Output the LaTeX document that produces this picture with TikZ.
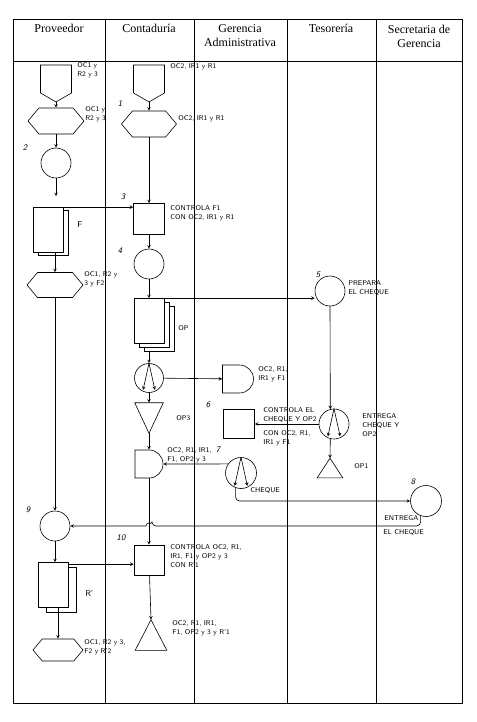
\documentclass[tikz,border=0pt]{standalone}
\usepackage{fontspec}
\setmainfont{Liberation Serif}
\usetikzlibrary{arrows.meta}
\usetikzlibrary{shapes.symbols,shapes.misc}
\usetikzlibrary{shadows}

\newcommand{\firma}[1]{%
  \draw[->, shorten >=1.5pt] (#1.north) -- (#1.245);
  \draw[->, shorten >=1.5pt] (#1.north) -- (#1.295);}

\begin{document}
\begin{tikzpicture}[>=stealth, x=1pt, y=-1pt, semithick,
  every node/.style={inner sep=0pt},
  lane/.style={font=\fontsize{12}{14}\selectfont, align=center},
  proc/.style={draw, minimum size=31pt},
  paso/.style={draw, circle, minimum size=30pt},
  hexa/.style={draw, signal, signal to=west and east, signal pointer angle=100, minimum width=56pt, minimum height=26pt},
  conector/.style={draw, signal, signal to=south, signal pointer angle=120, minimum width=31pt, minimum height=28pt},
  doc/.style={draw, fill=white, minimum width=30pt, minimum height=45pt},
  copia/.style={copy shadow={shadow xshift=#1, shadow yshift=-3pt, draw=black, fill=white}},
  archivo/.style={draw, rounded rectangle, rounded rectangle left arc=none, minimum width=30pt, minimum height=28pt},
  tri/.style={minimum width=28pt, minimum height=30pt},
  nota/.style={font=\fontsize{7}{9}\selectfont\sffamily, align=left, anchor=north west},
  num/.style={font=\fontsize{8.5}{8.5}\selectfont\sffamily\itshape},
]
\useasboundingbox (0,0) rectangle (476,722);

% marco y columnas
\draw (13,19) rectangle (462,703);
\draw (13,61) -- (462,61);
\foreach \x in {105,194,287,376} \draw (\x,19) -- (\x,703);

\node[lane] (hprov) at (59,28) {Proveedor};
\node[lane] (hcont) at (149,28) {Contaduría};
\node[lane] (hger) at (240,36) {Gerencia\\Administrativa};
\node[lane] (htes) at (331,28) {Tesorería};
\node[lane] (hsec) at (419,36) {Secretaria de\\Gerencia};

% Proveedor
\node[conector] (oc1) at (56,79) {};
\node[hexa] (hx1) at (56,121) {};
\node[paso] (c2) at (56,163) {};
\node[doc, copia=5pt] (docf) at (48,230) {};
\node[hexa, minimum height=25pt] (hx2) at (55,285) {};
\node[paso] (c9) at (55,526) {};
\node[doc, copy shadow={shadow xshift=8pt, shadow yshift=-5pt, draw=black, fill=white}] (docr) at (53,585) {};
\node[hexa, minimum width=50pt, minimum height=22pt] (hx3) at (58,650) {};

% Contaduria
\node[conector] (oc2) at (149,79) {};
\node[hexa, minimum width=55pt] (hx4) at (149,124) {};
\node[proc] (sq3) at (149,219) {};
\node[paso] (c4) at (149,264) {};
\node[doc, double copy shadow={shadow xshift=5pt, shadow yshift=-4pt, draw=black, fill=white}] (docop) at (149,321) {};
\node[paso, minimum size=29pt] (cf) at (149,378) {};
\node[tri] (t3) at (149,418) {};
\node[archivo, minimum width=27pt] (d2) at (149,464) {};
\node[proc, minimum size=30pt] (sq10) at (149,560) {};
\node[tri, minimum width=31pt] (t2) at (151,635) {};

% Gerencia Administrativa
\node[archivo, minimum width=31pt] (d1) at (238,379) {};
\node[proc, minimum height=29pt] (sq6) at (239,424) {};
\node[paso, minimum size=31pt] (c7) at (241,473) {};

% Tesoreria
\node[paso] (c5) at (330,291) {};
\node[paso] (ce) at (334,424) {};
\node[tri, minimum width=25pt, minimum height=19pt] (t1) at (330,468) {};

% Secretaria de Gerencia
\node[paso, minimum size=31pt] (c8) at (426,501) {};

\draw (t3.north west) -- (t3.north east) -- (t3.south) -- cycle;
\draw (t2.south west) -- (t2.south east) -- (t2.north) -- cycle;
\draw (t1.south west) -- (t1.south east) -- (t1.north) -- cycle;
\firma{cf}
\firma{c7}
\firma{ce}

% textos
\node[nota] (l1) at (77,62) {OC1 y\\R2 y 3};
\node[nota] (l2) at (170,63) {OC2, IR1 y R1};
\node[nota] (l3) at (85,106) {OC1 y\\R2 y 3};
\node[nota] (l4) at (178,115) {OC2, IR1 y R1};
\node[nota] (l5) at (170,205) {CONTROLA F1\\CON OC2, IR1 y R1};
\node[nota, font=\fontsize{8.5}{8.5}\selectfont\sffamily] (l6) at (77,221) {F};
\node[nota] (l7) at (84,271) {OC1, R2 y\\3 y F2};
\node[nota] (l8) at (178,325) {OP};
\node[nota] (l9) at (348,280) {PREPARA\\EL CHEQUE};
\node[nota] (l10) at (258,366) {OC2, R1,\\IR1 y F1};
\node[nota] (l11) at (176,415) {OP3};
\node[nota] (l12) at (263,407) {CONTROLA EL\\CHEQUE Y OP2};
\node[nota] (l13) at (263,430) {CON OC2, R1,\\IR1 y F1};
\node[nota] (l14) at (362,413) {ENTREGA\\CHEQUE Y\\OP2};
\node[nota] (l15) at (354,463) {OP1};
\node[nota] (l16) at (167,447) {OC2, R1, IR1,\\F1, OP2 y 3};
\node[nota] (l17) at (250,487) {CHEQUE};
\node[nota] (l18) at (384,515) {ENTREGA};
\node[nota] (l19) at (383,529) {EL CHEQUE};
\node[nota] (l20) at (170,544) {CONTROLA OC2, R1,\\IR1, F1 y OP2 y 3\\CON R'1};
\node[nota] (l21) at (172,620) {OC2, R1, IR1,\\F1, OP2 y 3 y R'1};
\node[nota, font=\fontsize{8.5}{8.5}\selectfont\sffamily] (l22) at (85,590) {R'};
\node[nota] (l23) at (84,639) {OC1, R2 y 3,\\F2 y R'2};

\node[num] (n1) at (120,104) {1};
\node[num] (n2) at (25,148) {2};
\node[num] (n3) at (123,197) {3};
\node[num] (n4) at (120,251) {4};
\node[num] (n5) at (318,275) {5};
\node[num] (n6) at (208,405) {6};
\node[num] (n7) at (218,450) {7};
\node[num] (n8) at (413,482) {8};
\node[num] (n9) at (28,510) {9};
\node[num] (n10) at (121,538) {10};

% flujo
\draw[->] (oc1) -- (hx1);
\draw[->] (hx1) -- (c2);
\draw[->, shorten >=11pt] (c2.south) -- (c2.south |- docf.north);
\draw[->] (docf.north east) -- (docf.north east -| sq3.west);
\draw[->] (hx2.north |- docf.south) -- (hx2.north);
\draw[->] (hx2) -- (c9);
\draw[->] (c9.south) -- (c9.south |- docr.north);
\draw[->] ([yshift=-2pt]docr.north east) -- ([yshift=-2pt]docr.north east -| sq10.west);
\draw[->] (hx3.north |- docr.south) -- (hx3.north);

\draw[->] (oc2) -- (hx4);
\draw[->] (hx4) -- (sq3);
\draw[->] (sq3) -- (c4);
\draw[->] (c4) -- (docop);
\draw[->] (docop.north east) -- (docop.north east -| c5.west);
\draw[->] ([yshift=-8pt]docop.south) -- (cf);
\draw[->] (cf) -- (d1);
\draw[->] (cf) -- (t3);
\draw[->] (t3.south) -- (d2);
\draw[->] (c7.145) -- (d2.east);
\draw[->] (d2) -- (sq10);
\draw[->] (sq10) -- (t2.north);

\draw[->] (c5.south) -- (ce.104);
\draw[->] (ce) -- (sq6);
\draw[->] (ce.256) -- (t1.north);
\draw[->, rounded corners=4pt] (c7.250) |- (c8.west);
\draw[->, rounded corners=4pt] (c8.250) |- ([xshift=3pt]sq10.north |- c9.east) [sharp corners] arc[start angle=0, end angle=180, radius=3pt] -- (c9.east);
\end{tikzpicture}
\end{document}
